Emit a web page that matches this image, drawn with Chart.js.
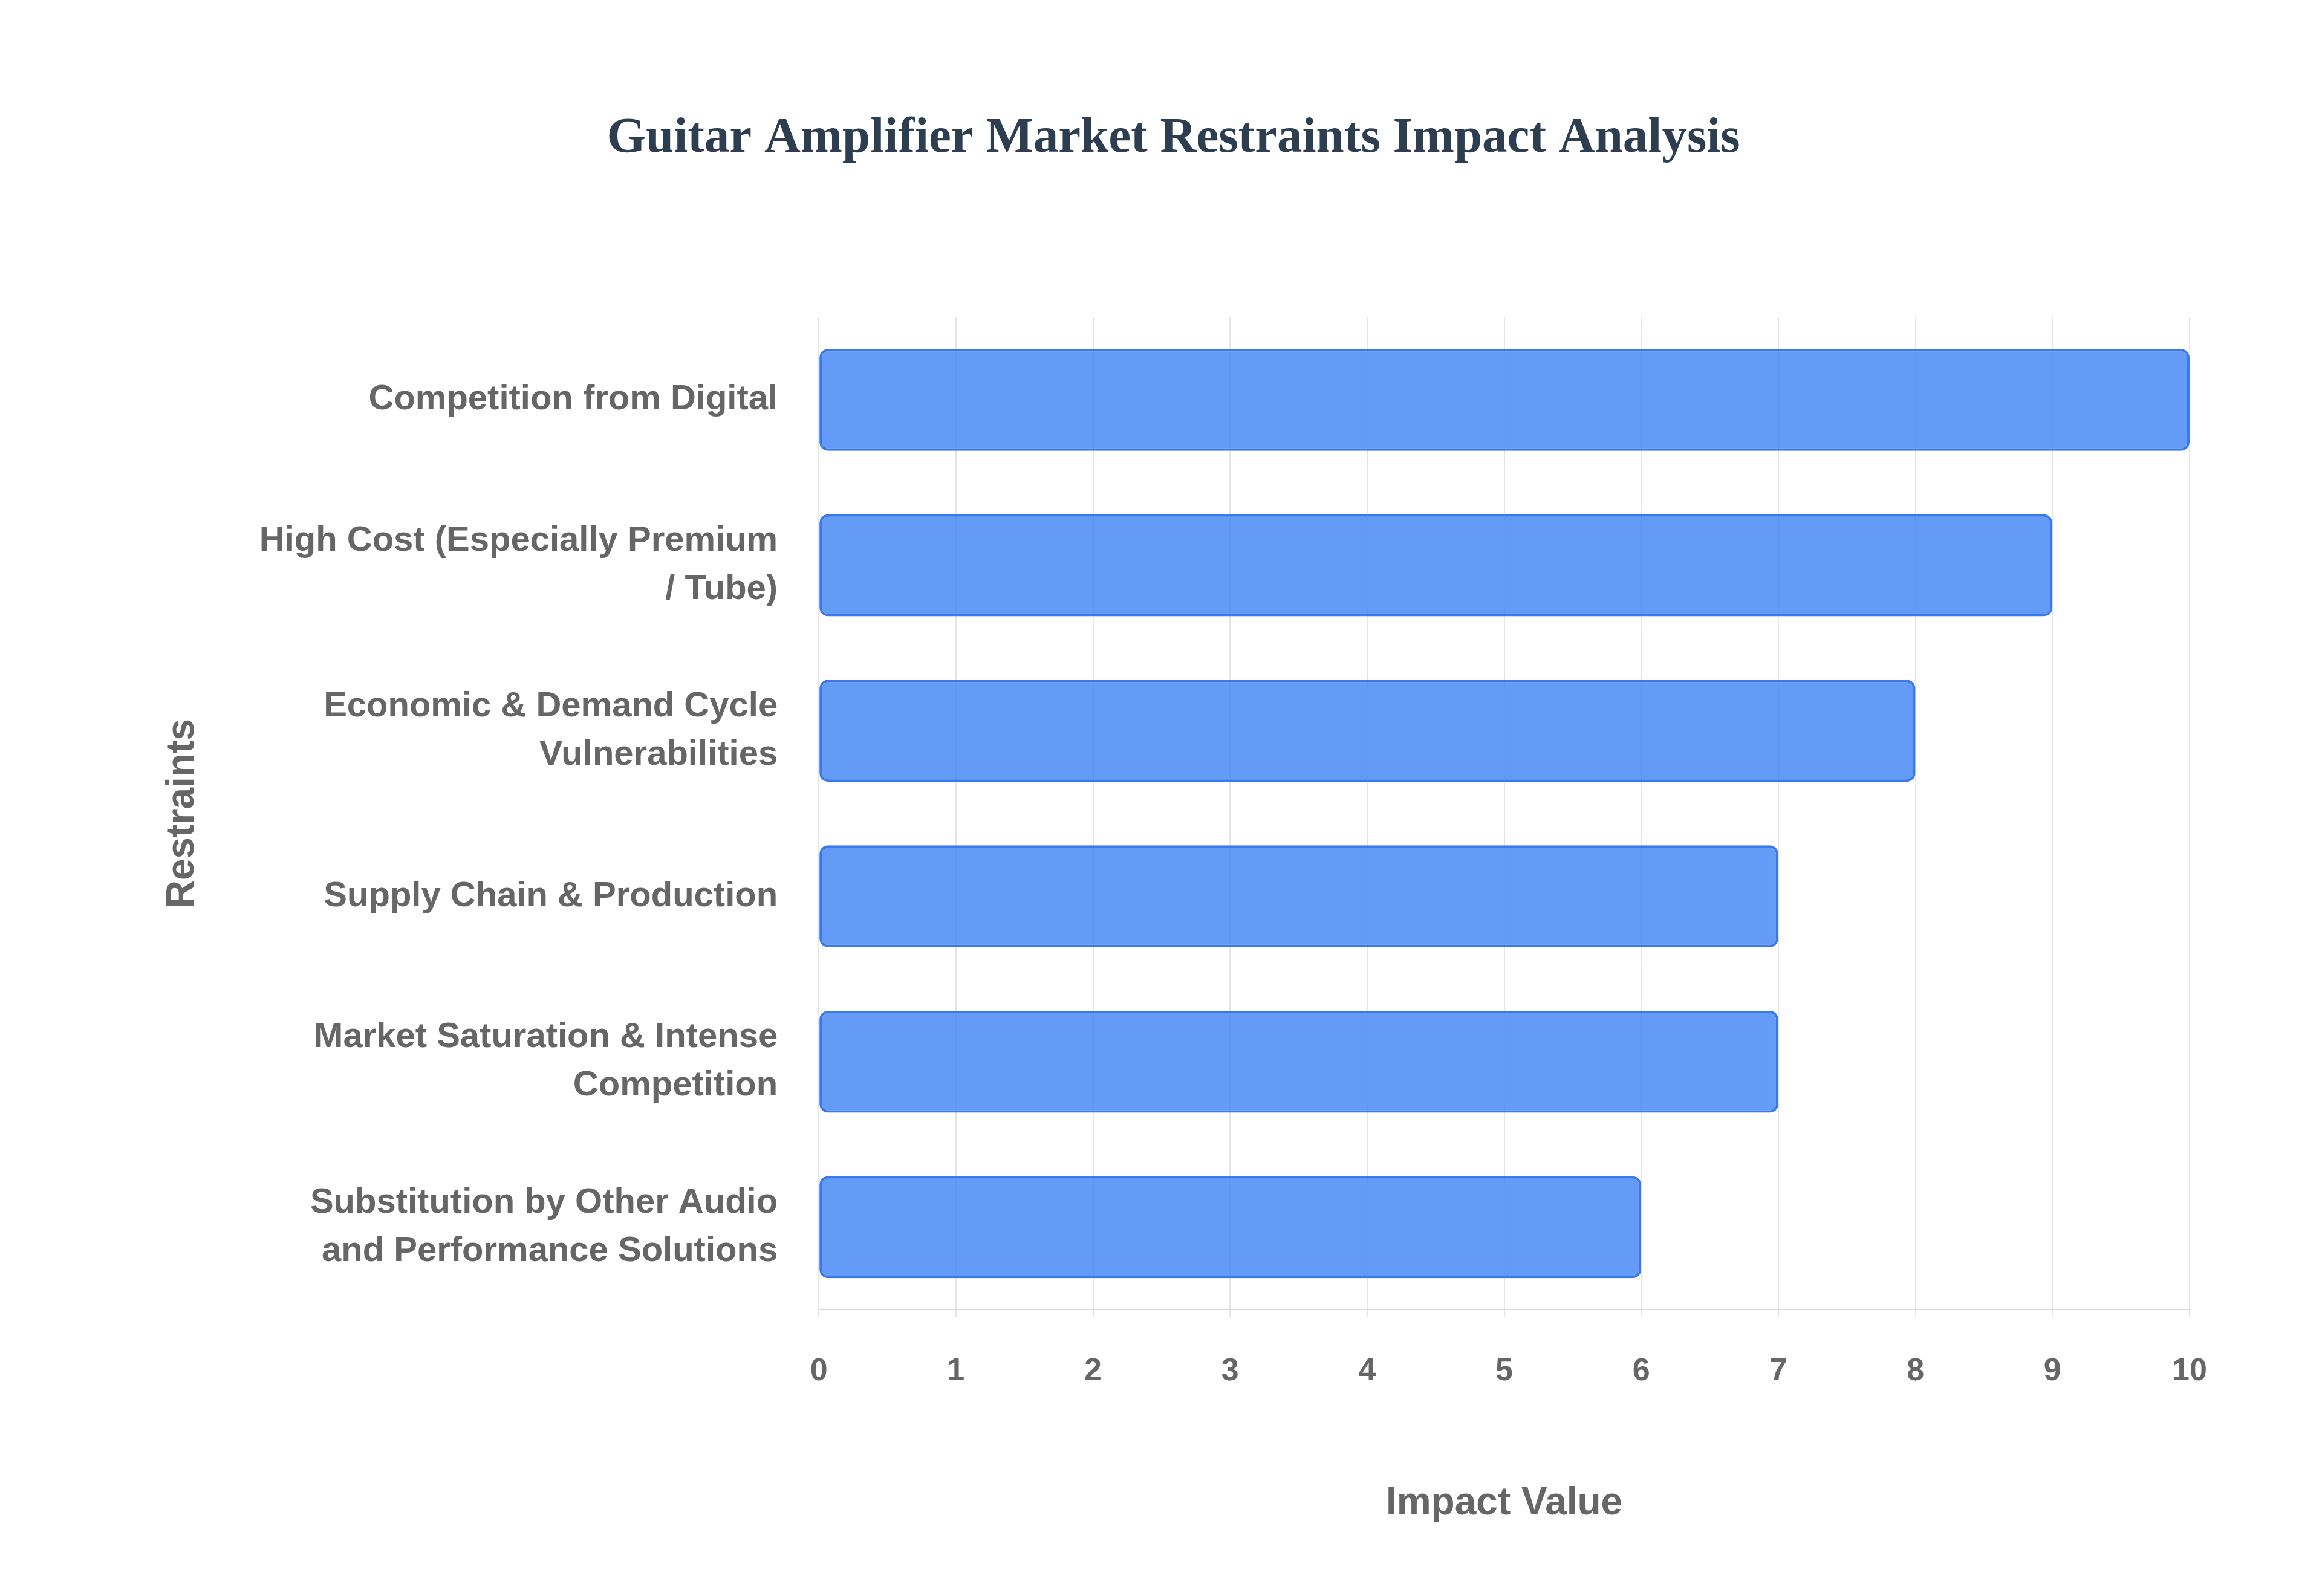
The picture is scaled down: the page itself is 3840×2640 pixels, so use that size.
<!DOCTYPE html>
<html><head><meta charset="utf-8">
<script src="https://cdn.jsdelivr.net/npm/chart.js@4"></script>
<style>html,body{margin:0;padding:0;background:#fff}#w{width:3840px;height:2640px}</style>
</head><body><div id="w"><canvas id="c"></canvas></div>
<script>
const categories = [
  "Competition from Digital",
  ["High Cost (Especially Premium", "/ Tube)"],
  ["Economic & Demand Cycle", "Vulnerabilities"],
  "Supply Chain & Production",
  ["Market Saturation & Intense", "Competition"],
  ["Substitution by Other Audio", "and Performance Solutions"]
];
const impactValues = [10, 9, 8, 7, 7, 6];
const chartTitle = "Guitar Amplifier Market Restraints Impact Analysis";
const xTitle = "Impact Value";
const yTitle = "Restraints";

new Chart(document.getElementById('c'), {
  type: 'bar',
  data: { labels: categories, datasets: [{
    data: impactValues,
    backgroundColor: 'rgba(66,133,244,0.82)',
    borderColor: 'rgba(59,120,240,1)',
    borderWidth: 4,
    borderRadius: 14,
    borderSkipped: false,
    barPercentage: 0.8,
    categoryPercentage: 0.77
  }]},
  options: {
    indexAxis: 'y',
    responsive: true, maintainAspectRatio: false, devicePixelRatio: 1, animation: false,
    layout: { padding: { left: 260, right: 219, top: 180, bottom: 110 } },
    plugins: {
      legend: { display: false },
      tooltip: { enabled: false },
      title: { display: true, text: chartTitle, color: '#2c3e50',
        font: { family: 'Liberation Serif', size: 83, weight: 'bold' },
        padding: { top: 0, bottom: 245 } }
    },
    scales: {
      x: { min: 0, max: 10,
        ticks: { stepSize: 1, color: '#666', padding: 59, font: { family: 'Liberation Sans', size: 52, weight: 'bold' } },
        grid: { color: 'rgba(0,0,0,0.1)', lineWidth: 2, tickLength: 12 },
        border: { color: 'rgba(0,0,0,0.15)' },
        title: { display: true, text: xTitle, color: '#666', padding: { top: 90 },
          font: { family: 'Liberation Sans', size: 64, weight: 'bold' } } },
      y: {
        ticks: { color: '#666', padding: 60, font: { family: 'Liberation Sans', size: 58, weight: 'bold', lineHeight: 1.38 } },
        grid: { display: false },
        border: { color: 'rgba(0,0,0,0.15)' },
        title: { display: true, text: yTitle, color: '#666', padding: { bottom: 28 },
          font: { family: 'Liberation Sans', size: 64, weight: 'bold' } } }
    }
  }
});
</script></body></html>
